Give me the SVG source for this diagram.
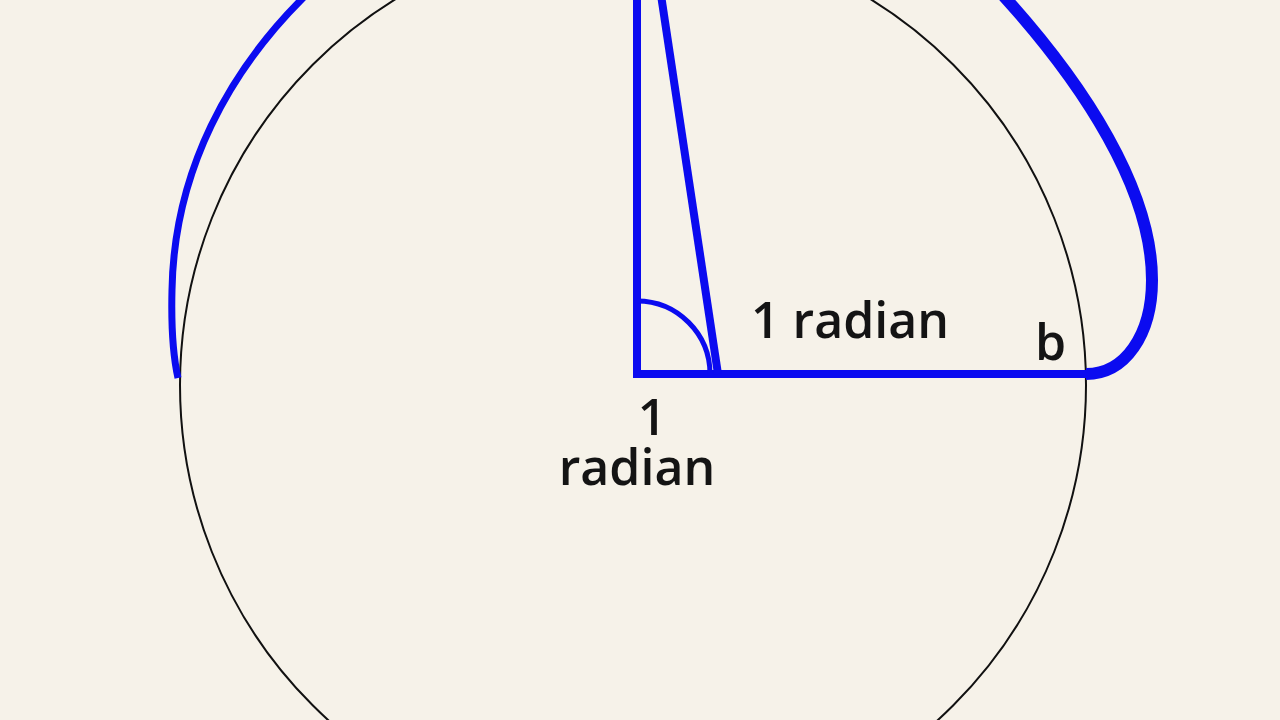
<svg xmlns="http://www.w3.org/2000/svg" width="1280" height="720" viewBox="0 0 1280 720">
<style>
.blue{fill:none;stroke:#0b0bf0;stroke-linecap:butt}
.lbl{font-family:"Open Sans","Noto Sans","Liberation Sans",sans-serif;font-weight:600;font-size:50px;fill:#141414}
</style>
<rect width="1280" height="720" fill="#f6f2e9"/>
<g id="circle"><circle cx="633" cy="385" r="453" fill="none" stroke="#111" stroke-width="2"/></g>
<g id="connectors">
<path class="blue" d="M637,-5 V374 H1088" stroke-width="8" stroke-linejoin="miter"/>
<path class="blue" d="M661,-5 L718,374" stroke-width="8"/>
<path class="blue" d="M637,301 A73,73 0 0 1 710,374" stroke-width="5"/>
<path class="blue" d="M1086,374 C1125,374 1152,335 1152,280 C1152,190 1085,85 1000,-8" stroke-width="12"/>
<path class="blue" d="M305,-4 C230,70 174,170 172,290 C171,330 174,360 178,378" stroke-width="7"/>
</g>
<g id="label-1radian-right"><text class="lbl" x="751" y="338">1 radian</text></g>
<g id="label-b"><text class="lbl" x="1035" y="360">b</text></g>
<g id="label-1radian-bottom">
<text class="lbl" x="652" y="435" text-anchor="middle">1</text>
<text class="lbl" x="637" y="485" text-anchor="middle">radian</text>
</g>
</svg>
